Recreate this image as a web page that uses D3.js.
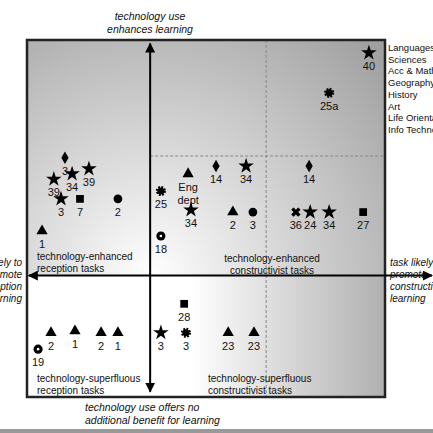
<!DOCTYPE html>
<html><head><meta charset="utf-8">
<script src="https://cdn.jsdelivr.net/npm/d3@7"></script>
<style>body{margin:0;background:#fff;font-family:"Liberation Sans",Arial,sans-serif}</style>
</head><body><div id="chart"></div>
<script>
// data: x,y on a 0..100 grid (0,0 = bottom-left of the frame)
const subjects = ["Languages","Sciences","Acc & Math","Geography","History","Art","Life Orientation","Info Technology"];
const subjectShapes = ["star","triangle","circle","diamond","square","sun","dot","cross"];
const pointLabels = ["3","39","34","39","3","7","2","1","18","25","Eng\ndept","34","14","34","2","3","14","36","24","34","27","40","25a","28","3","3","2","1","2","1","19","23","23"];
const pointSubject = [3,0,0,0,0,4,2,1,6,5,1,0,3,0,1,2,3,7,0,0,4,0,5,4,0,5,1,1,1,1,6,1,1];
const pointX = [10.6,7.5,12.6,17.3,9.5,14.8,25.4,4.2,37.4,37.4,45,45.8,52.8,61.2,57.5,63.1,78.8,75.1,79.1,84.4,93.9,95.5,84.4,43.9,37.4,44.4,6.7,13.4,20.7,25.4,3.1,56.2,63.4];
const pointY = [67,61,62.5,63.9,55.5,55.5,55.5,46.5,45.1,57.7,62.5,52.4,64.7,64.7,51.8,51.8,64.7,51.8,51.8,51.8,51.8,96.4,85.2,26.1,18,18,18,18.5,18,18,13.4,18,18];

const W = 433, H = 433;
const svg = d3.select("#chart").append("svg").attr("width", W).attr("height", H);
const x = d3.scaleLinear().domain([0,100]).range([27,385]);
const y = d3.scaleLinear().domain([0,100]).range([397,40]);
const cx = x(34.4), cy = y(34);

const defs = svg.append("defs");
const rg = defs.append("radialGradient").attr("id","rg").attr("gradientUnits","userSpaceOnUse")
  .attr("cx",cx).attr("cy",cy).attr("r",320);
rg.append("stop").attr("offset",0).attr("stop-color","#ffffff");
rg.append("stop").attr("offset",0.3).attr("stop-color","#e2e2e2");
rg.append("stop").attr("offset",1).attr("stop-color","#a0a0a0");
const lg = defs.append("linearGradient").attr("id","lg").attr("gradientUnits","userSpaceOnUse")
  .attr("x1",cx+40).attr("x2",385).attr("y1",0).attr("y2",0);
lg.append("stop").attr("offset",0).attr("stop-color","#ffffff");
lg.append("stop").attr("offset",1).attr("stop-color","#b0b0b0");
defs.append("marker").attr("id","ah").attr("viewBox","0 0 10 10").attr("refX",9).attr("refY",5)
  .attr("markerWidth",5).attr("markerHeight",5).attr("orient","auto-start-reverse")
  .append("path").attr("d","M0,0L10,5L0,10z").attr("fill","#000");

// backgrounds
svg.append("rect").attr("x",x(0)).attr("y",y(100)).attr("width",x(100)-x(0)).attr("height",cy-y(100)).attr("fill","url(#rg)");
svg.append("rect").attr("x",cx).attr("y",cy).attr("width",x(100)-cx).attr("height",y(0)-cy).attr("fill","url(#lg)");
svg.append("rect").attr("x",x(0)).attr("y",cy).attr("width",cx-x(0)).attr("height",y(0)-cy).attr("fill","#fff");

// dashed guides
svg.append("line").attr("x1",cx).attr("x2",x(100)).attr("y1",y(67.5)).attr("y2",y(67.5))
  .attr("stroke","#888").attr("stroke-dasharray","3,2");
svg.append("line").attr("x1",x(66.8)).attr("x2",x(66.8)).attr("y1",y(100)).attr("y2",y(0))
  .attr("stroke","#888").attr("stroke-dasharray","3,2");

// frame
svg.append("rect").attr("x",x(0)).attr("y",y(100)).attr("width",x(100)-x(0)).attr("height",y(0)-y(100))
  .attr("fill","none").attr("stroke","#222").attr("stroke-width",2.5);

// axes
svg.append("line").attr("x1",cx).attr("x2",cx).attr("y1",y(99)).attr("y2",y(1.5))
  .attr("stroke","#000").attr("stroke-width",2).attr("marker-start","url(#ah)").attr("marker-end","url(#ah)");
svg.append("line").attr("x1",x(0.5)).attr("x2",432).attr("y1",cy).attr("y2",cy)
  .attr("stroke","#000").attr("stroke-width",2).attr("marker-start","url(#ah)").attr("marker-end","url(#ah)");

// symbols
const sym = {
  star: d3.symbol(d3.symbolStar, 75),
  triangle: d3.symbol(d3.symbolTriangle, 55),
  circle: d3.symbol(d3.symbolCircle, 60),
  diamond: d3.symbol(d3.symbolDiamond, 45),
  square: d3.symbol(d3.symbolSquare, 60),
  sun: d3.symbol(d3.symbolCircle, 40),
  dot: d3.symbol(d3.symbolCircle, 65),
  cross: d3.symbol(d3.symbolCross, 55)
};
const pts = pointLabels.map((l,i)=>({l, s:subjectShapes[pointSubject[i]], x:pointX[i], y:pointY[i]}));
const g = svg.append("g");
const pg = g.selectAll("g").data(pts).join("g").attr("transform",d=>`translate(${x(d.x)},${y(d.y)})`);
pg.append("path").attr("d",d=>sym[d.s]()).attr("fill","#000")
  .attr("stroke",d=>d.s==="sun"?"#000":"none").attr("stroke-width",3).attr("stroke-dasharray",d=>d.s==="sun"?"1.6,1.2":null)
  .attr("transform",d=>d.s==="cross"?"rotate(45)":null);
pg.filter(d=>d.s==="dot").append("circle").attr("r",1.3).attr("fill","#fff");
pg.append("text").attr("text-anchor","middle").attr("font-size",11).attr("fill","#111")
  .selectAll("tspan").data(d=>d.l.split("\n")).join("tspan").attr("x",0).attr("y",(d,i)=>17+i*13).text(d=>d);

// text blocks
function block(lines, tx, ty, opts={}) {
  const t = svg.append("text").attr("font-size",opts.size||10).attr("fill","#111")
    .attr("text-anchor",opts.anchor||"start").attr("font-style",opts.italic?"italic":null);
  t.selectAll("tspan").data(lines).join("tspan").attr("x",tx).attr("y",(d,i)=>ty+i*(opts.lh||12)).text(d=>d);
}
block(["technology-enhanced","reception tasks"],37,260);
block(["technology-enhanced","constructivist tasks"],272,262,{anchor:"middle"});
block(["technology-superfluous","reception tasks"],37,382);
block(["technology-superfluous","constructivist tasks"],208,382);
block(["technology use","enhances learning"],150,20,{anchor:"middle",italic:true,lh:13,size:10.5});
block(["technology use offers no","additional benefit for learning"],85,411,{italic:true,lh:13,size:10.5});
block(["task likely to","promote","constructivist","learning"],390,266,{italic:true,lh:12});
block(["task likely to","promote","reception","learning"],22,266,{italic:true,lh:12,anchor:"end"});
block(subjects,388,51,{size:9.5,lh:11.7});

svg.append("rect").attr("x",0).attr("y",429).attr("width",W).attr("height",4).attr("fill","#999");
</script></body></html>
